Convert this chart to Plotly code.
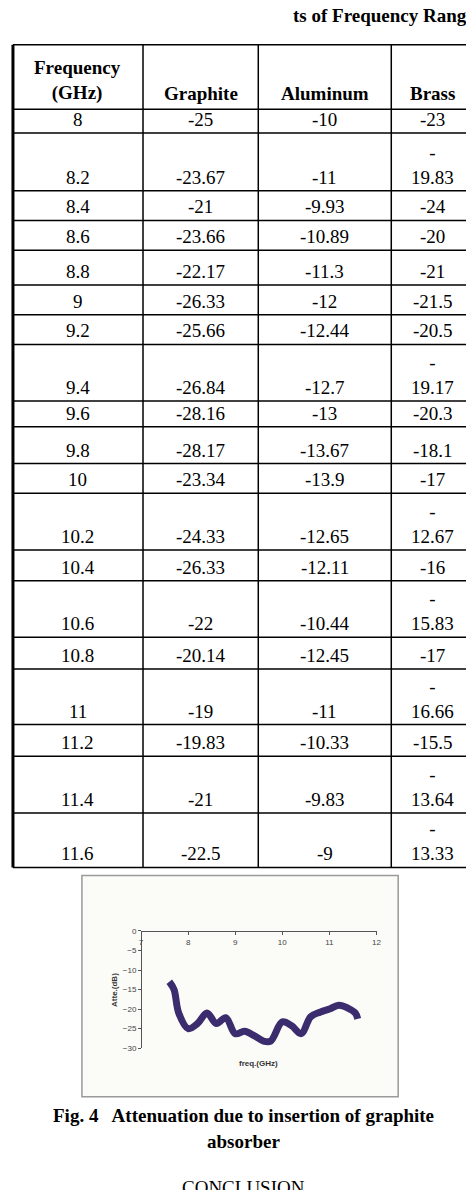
import plotly.graph_objects as go

freq = ["8", "8.2", "8.4", "8.6", "8.8", "9", "9.2", "9.4", "9.6", "9.8", "10",
        "10.2", "10.4", "10.6", "10.8", "11", "11.2", "11.4", "11.6"]
graphite = ["-25", "-23.67", "-21", "-23.66", "-22.17", "-26.33", "-25.66", "-26.84", "-28.16",
            "-28.17", "-23.34", "-24.33", "-26.33", "-22", "-20.14", "-19", "-19.83", "-21", "-22.5"]
aluminum = ["-10", "-11", "-9.93", "-10.89", "-11.3", "-12", "-12.44", "-12.7", "-13", "-13.67",
            "-13.9", "-12.65", "-12.11", "-10.44", "-12.45", "-11", "-10.33", "-9.83", "-9"]
brass = ["-23", "-19.83", "-24", "-20", "-21", "-21.5", "-20.5", "-19.17", "-20.3", "-18.1",
         "-17", "-12.67", "-16", "-15.83", "-17", "-16.66", "-15.5", "-13.64", "-13.33"]
headers = ["Frequency<br>(GHz)", "Graphite", "Aluminum", "Brass"]

# curve in Fig. 4 (graphite)
chart_freq = [7.6, 7.7, 7.8, 8.0, 8.2, 8.4, 8.6, 8.8, 9.0, 9.2, 9.4, 9.6, 9.75, 10.0, 10.2, 10.4,
              10.6, 10.8, 11.0, 11.2, 11.4, 11.55, 11.6]
chart_att = [-13, -15, -21, -25, -23.7, -21, -23.7, -22.2, -26.3, -25.7, -26.8, -28.2, -28.2,
             -23.3, -24.3, -26.3, -22, -20.8, -20, -19, -19.8, -21, -22.5]

# layout geometry (pixels)
W, H = 474, 1190
col_edges = [3, 135, 252, 387, 471]
row_edges = [33, 98, 122, 180, 210, 240, 275, 305, 335, 392, 418, 455, 485, 542, 573, 630,
             662, 718, 750, 807, 862]

fig = go.Figure()
shapes, ann = [], []
serif = "Liberation Serif, DejaVu Serif, serif"
for y in row_edges:
    shapes.append(dict(type="line", xref="x", yref="y", x0=col_edges[0], x1=col_edges[-1],
                       y0=y, y1=y, line=dict(color="black", width=1.5)))
for i, x in enumerate(col_edges):
    shapes.append(dict(type="line", xref="x", yref="y", x0=x, x1=x, y0=row_edges[0],
                       y1=row_edges[-1], line=dict(color="black", width=3 if i in (0, 4) else 1.5)))
centers = [(col_edges[i] + col_edges[i + 1]) / 2 for i in range(4)]
for i, h in enumerate(headers):
    ann.append(dict(x=centers[i], y=row_edges[1] - 3, text="<b>" + h + "</b>", xref="x", yref="y",
                    yanchor="bottom", showarrow=False, font=dict(family=serif, size=19, color="black")))
for r in range(len(freq)):
    top, bot = row_edges[r + 1], row_edges[r + 2]
    double = (bot - top) > 40
    vals = [freq[r], graphite[r], aluminum[r], brass[r]]
    for c, v in enumerate(vals):
        txt = "-<br>" + v.lstrip("-") if (double and c == 3) else v
        ann.append(dict(x=centers[c], y=bot - 1, text=txt, xref="x", yref="y", yanchor="bottom",
                        showarrow=False, font=dict(family=serif, size=19, color="black")))

# chart box
shapes.append(dict(type="rect", xref="x", yref="y", x0=73, x1=394, y0=870, y1=1093,
                   line=dict(color="#9a9a9a", width=1.5), fillcolor="#fbfbf8", layer="below"))

# caption
ann.append(dict(x=237, y=1112, text="<b>Fig. 4   Attenuation due to insertion of graphite</b>", xref="x",
                yref="y", showarrow=False, font=dict(family=serif, size=19, color="black")))
ann.append(dict(x=237, y=1138, text="<b>absorber</b>", xref="x", yref="y", showarrow=False,
                font=dict(family=serif, size=19, color="black")))
ann.append(dict(x=237, y=1172, text="CONCLUSION", xref="x", yref="y", yanchor="top", showarrow=False,
                font=dict(family=serif, size=19, color="black")))
ann.append(dict(x=474, y=16, text="<b>ts of Frequency Range</b>", xref="x", yref="y", xanchor="right",
                yanchor="bottom", showarrow=False, font=dict(family=serif, size=19, color="black")))

# chart axes text
ann.append(dict(x=252, y=1060, text="<b>freq.(GHz)</b>", xref="x", yref="y", showarrow=False,
                font=dict(family="Liberation Sans", size=8, color="#333")))
ann.append(dict(x=106, y=985, text="<b>Atte.(dB)</b>", xref="x", yref="y", showarrow=False, textangle=-90,
                font=dict(family="Liberation Sans", size=8, color="#333")))

fig.add_trace(go.Scatter(x=chart_freq, y=chart_att, xaxis="x2", yaxis="y2", mode="lines",
                         line=dict(color="#3b2c6e", width=7, shape="spline"), showlegend=False))

def py(p):
    return 1 - p / H

fig.update_layout(
    width=W, height=H, autosize=False, margin=dict(l=0, r=0, t=0, b=0),
    paper_bgcolor="white", plot_bgcolor="rgba(0,0,0,0)", showlegend=False,
    xaxis=dict(range=[0, W], visible=False, domain=[0, 1]),
    yaxis=dict(range=[H, 0], visible=False, domain=[0, 1]),
    xaxis2=dict(domain=[133 / W, 372 / W], range=[7, 12], dtick=1, anchor="free", position=py(926),
                showline=True, linecolor="#555", linewidth=1, ticks="outside",
                ticklen=3, tickcolor="#555", showgrid=False, zeroline=False,
                tickfont=dict(family="Liberation Sans", size=8, color="#444")),
    yaxis2=dict(domain=[py(1044), py(926)], range=[-30, 0], dtick=5, anchor="free", position=133 / W,
                showline=True, linecolor="#555", linewidth=1, ticks="outside",
                ticklen=3, tickcolor="#555", showgrid=False, zeroline=False,
                tickfont=dict(family="Liberation Sans", size=8, color="#444")),
    shapes=shapes, annotations=ann,
)
fig.write_html("out.html")
